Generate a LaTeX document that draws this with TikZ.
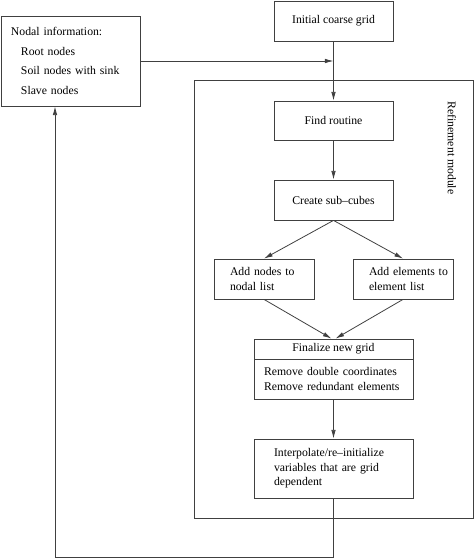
\documentclass[tikz,border=0pt]{standalone}
\usepackage{fontspec}
\setmainfont{Liberation Serif}
\usetikzlibrary{arrows.meta}

\tikzset{every picture/.style={line width=0.6pt}}
\tikzset{
  boxnode/.style={draw=black!75, rectangle, inner sep=0pt, align=center, font=\fontsize{8.8}{11}\selectfont},
  flowline/.style={draw=black!75, -{Latex[length=6.5pt,width=3.4pt]}},
}

\begin{document}
\begin{tikzpicture}[x=0.75pt,y=0.75pt,yscale=-1,xscale=1]
\useasboundingbox (0,0) rectangle (474,559);

%Shape: Rectangle [refinement module frame]
\draw [draw=black!75] (194,80) rectangle (473,518);

% Text Node
\draw (333.5,21) node [boxnode, minimum width=89.25pt, minimum height=30pt] (init) {Initial coarse grid};
% Text Node
\draw (70.5,61) node [boxnode, minimum width=104.25pt, minimum height=67.5pt, text width=89.25pt, align=left, font=\fontsize{8.8}{14.8}\selectfont] (nodal) {Nodal information:\\\hspace*{7.5pt}Root nodes\\\hspace*{7.5pt}Soil nodes with sink\\\hspace*{7.5pt}Slave nodes};
% Text Node
\draw (333.5,120.5) node [boxnode, minimum width=89.25pt, minimum height=29.25pt] (find) {Find routine};
% Text Node
\draw (333.5,200) node [boxnode, minimum width=89.25pt, minimum height=30pt] (create) {Create sub--cubes};
% Text Node
\draw (264,279) node [boxnode, minimum width=75pt, minimum height=30pt, text width=51pt, align=left] (addn) {Add nodes to\\nodal list};
% Text Node
\draw (403,279) node [boxnode, minimum width=75pt, minimum height=30pt, text width=51pt, align=left] (adde) {\mbox{Add elements to}\\element list};
% Text Node
\draw (333.5,349) node [boxnode, minimum width=119.25pt, minimum height=15pt] (finalhead) {Finalize new grid};
% Text Node
\draw (333.5,379) node [boxnode, minimum width=119.25pt, minimum height=30pt, text width=104.25pt, align=left, font=\fontsize{8.8}{11.25}\selectfont] (finalbody) {Remove double coordinates\\Remove redundant elements};
% Text Node
\draw (333.5,468.5) node [boxnode, minimum width=119.25pt, minimum height=44.25pt, text width=89.25pt, align=left, font=\fontsize{8.8}{10.9}\selectfont] (interp) {Interpolate/re--initialize\\variables that are grid\\dependent};
% Text Node
\draw (452,148) node [rotate=-90, font=\fontsize{8.8}{11}\selectfont] (modlabel) {Refinement module};

%Straight Lines
\coordinate (join) at (333.5,61);
\coordinate (loopcorner) at (55,557.5);
\draw [flowline] (nodal.east) -- (join);
\draw [flowline] (init) -- (find);
\draw [flowline] (find) -- (create);
\draw [flowline] (create.south) -- (addn.north);
\draw [flowline] (create.south) -- (adde.north);
\draw [flowline] (addn.south) -- ([xshift=-1.5pt]finalhead.north);
\draw [flowline] (adde.south) -- ([xshift=1.5pt]finalhead.north);
\draw [flowline] (finalbody) -- (interp);
\draw [flowline] (interp.south) |- (loopcorner) -- (loopcorner |- nodal.south);

\end{tikzpicture}
\end{document}
